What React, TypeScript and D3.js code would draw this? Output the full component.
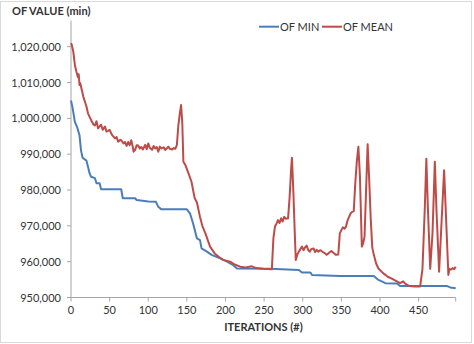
import React from "react";
import * as d3 from "d3";

const xTicks = [0, 50, 100, 150, 200, 250, 300, 350, 400, 450];
const yTicks = [950000, 960000, 970000, 980000, 990000, 1000000, 1010000, 1020000];
const seriesNames = ["OF MIN", "OF MEAN"];

const ofMin: [number, number][] = [
  [0, 1005000], [2, 1003000], [5, 999000], [8, 997500], [11, 995300], [13, 991000], [15, 989000],
  [20, 988200], [22, 986500], [24, 984700], [26, 983700], [31, 983300], [33, 981900], [37, 981900],
  [39, 980200], [65, 980200], [67, 977700], [83, 977700], [85, 977200], [100, 976800], [110, 976700],
  [113, 975300], [117, 974600], [150, 974600], [154, 973500], [158, 970700], [163, 966500],
  [167, 966000], [169, 963700], [176, 962800], [182, 961900], [193, 960900], [202, 960000],
  [210, 959000], [215, 958100], [258, 958000], [295, 957700], [299, 957000], [310, 957000],
  [312, 956300], [348, 956000], [392, 956000], [398, 954900], [407, 954000], [422, 953900],
  [426, 953200], [487, 953200], [491, 952800], [498, 952600],
];

const ofMean: [number, number][] = [
  [0, 1021000], [1, 1020500], [3, 1018600], [5, 1014900], [7, 1013000], [9, 1011500], [10, 1012300],
  [11, 1009300], [12, 1009800], [14, 1007900], [16, 1006000], [18, 1004700], [20, 1003300],
  [22, 1001400], [25, 1000000], [27, 999100], [29, 998300], [31, 998000], [33, 999200], [35, 997200],
  [37, 997800], [39, 998200], [41, 996800], [44, 997700], [46, 996300], [48, 996500], [50, 996800],
  [53, 995400], [57, 994400], [59, 994800], [61, 993500], [64, 994000], [66, 993600], [68, 993000],
  [70, 993400], [72, 992300], [74, 993400], [76, 992500], [78, 993900], [80, 992000], [81, 990700],
  [83, 991200], [85, 992500], [87, 992400], [89, 991600], [91, 992000], [93, 991300], [96, 992600],
  [98, 991400], [100, 993000], [102, 991800], [105, 991200], [107, 992300], [109, 991600],
  [111, 992000], [113, 990700], [115, 992100], [117, 991600], [120, 991900], [122, 991200],
  [124, 991600], [126, 992100], [128, 991500], [131, 991300], [133, 991700], [135, 991500],
  [137, 992500], [139, 998100], [141, 1001500], [142.5, 1003700], [144, 999000], [145.5, 987900],
  [148, 987000], [152, 984700], [156, 982300], [160, 977800], [163, 976500], [167, 972500],
  [170, 970000], [174, 967900], [180, 964200], [186, 962300], [192, 961200], [197, 960500],
  [206, 960000], [212, 959200], [219, 958600], [226, 958400], [234, 958700], [240, 958200],
  [249, 958000], [260, 957900], [262, 966500], [264, 969800], [266, 970600], [268, 971600],
  [270, 970800], [272, 972100], [274, 971200], [276, 972500], [278, 972000], [281, 972100],
  [283, 978000], [285, 986000], [286, 989000], [287, 984000], [288, 978600], [290, 966000],
  [291, 960500], [293, 962000], [295, 962800], [297, 963500], [299, 964200], [301, 963200],
  [303, 964000], [305, 964500], [307, 963300], [309, 962800], [311, 963500], [314, 963700],
  [316, 962700], [318, 963300], [320, 962800], [323, 963200], [326, 962700], [329, 962300],
  [331, 961900], [334, 962500], [337, 963000], [340, 962400], [343, 961900], [346, 962000],
  [348, 967900], [350, 968800], [352, 969600], [354, 969200], [356, 969800], [358, 971500],
  [360, 972500], [362, 973500], [364, 973900], [366, 974100], [368, 981900], [370, 988000],
  [372, 992100], [374, 984000], [376.5, 964200], [378, 965000], [380, 967000], [382, 980000],
  [384, 992800], [386, 983000], [388, 972000], [390, 964000], [392, 961900], [395, 959500],
  [398, 958100], [404, 956800], [410, 955800], [414, 955400], [420, 954700], [426, 954000],
  [430, 954500], [433, 953800], [438, 953200], [445, 953100], [452, 953100], [455, 958000],
  [458, 975000], [460, 988700], [462, 975000], [465, 958000], [468, 968000], [471, 987900],
  [473, 975000], [476.5, 957200], [479, 968000], [483, 985500], [485, 975000], [488.5, 956300],
  [490, 958000], [492, 957800], [494, 958200], [496, 957900], [498, 958600],
];

const W = 474;
const H = 344;
const FONT = "Lato, 'Open Sans', sans-serif";
const TEXT = "#333";
const AXIS = "#a6a6a6";
const BLUE = "#4a7ebb";
const RED = "#be4b48";

export default function App() {
  const x = d3.scaleLinear().domain([0, 498]).range([71, 455.7]);
  const y = d3.scaleLinear().domain([950000, 1027250]).range([297.5, 20.7]);
  const line = d3
    .line<[number, number]>()
    .x((d) => x(d[0]))
    .y((d) => y(d[1]));
  const fmt = d3.format(",");
  const x0 = x(0);
  const yBase = y(950000);

  return (
    <svg
      width={W}
      height={H}
      style={{ position: "absolute", left: 0, top: 0, background: "#fff" }}
      fontFamily={FONT}
    >
      <rect x={0.5} y={1.5} width={471} height={341} fill="#fff" stroke="#d9d9d9" />
      {/* y axis */}
      <line x1={x0} x2={x0} y1={y.range()[1]} y2={yBase} stroke={AXIS} strokeWidth={1} />
      {yTicks.map((t) => (
        <g key={t}>
          <line x1={x0 - 4} x2={x0} y1={y(t)} y2={y(t)} stroke={AXIS} />
          <text x={61} y={y(t) + 4} textAnchor="end" fontSize={11} fill={TEXT}>
            {fmt(t)}
          </text>
        </g>
      ))}
      {/* x axis */}
      <line x1={x0} x2={x(498)} y1={yBase} y2={yBase} stroke={AXIS} strokeWidth={1} />
      {[...xTicks, 498].map((t) => (
        <line key={t} x1={x(t)} x2={x(t)} y1={yBase} y2={yBase + 4} stroke={AXIS} />
      ))}
      {xTicks.map((t) => (
        <text key={t} x={x(t)} y={314} textAnchor="middle" fontSize={11} fill={TEXT}>
          {t}
        </text>
      ))}
      {/* titles */}
      <text x={12} y={15} fontSize={11} fontWeight="bold" fill={TEXT}>
        OF VALUE (min)
      </text>
      <text x={263.5} y={330.5} textAnchor="middle" fontSize={11} fontWeight="bold" fill={TEXT}>
        ITERATIONS (#)
      </text>
      {/* series */}
      <path d={line(ofMin) || ""} fill="none" stroke={BLUE} strokeWidth={2} strokeLinejoin="round" />
      <path d={line(ofMean) || ""} fill="none" stroke={RED} strokeWidth={2} strokeLinejoin="round" />
      {/* legend */}
      <line x1={259} x2={279} y1={26.7} y2={26.7} stroke={BLUE} strokeWidth={2} />
      <text x={280} y={30.5} fontSize={11} fill={TEXT}>
        {seriesNames[0]}
      </text>
      <line x1={322} x2={342} y1={26.7} y2={26.7} stroke={RED} strokeWidth={2} />
      <text x={343} y={30.5} fontSize={11} fill={TEXT}>
        {seriesNames[1]}
      </text>
    </svg>
  );
}
